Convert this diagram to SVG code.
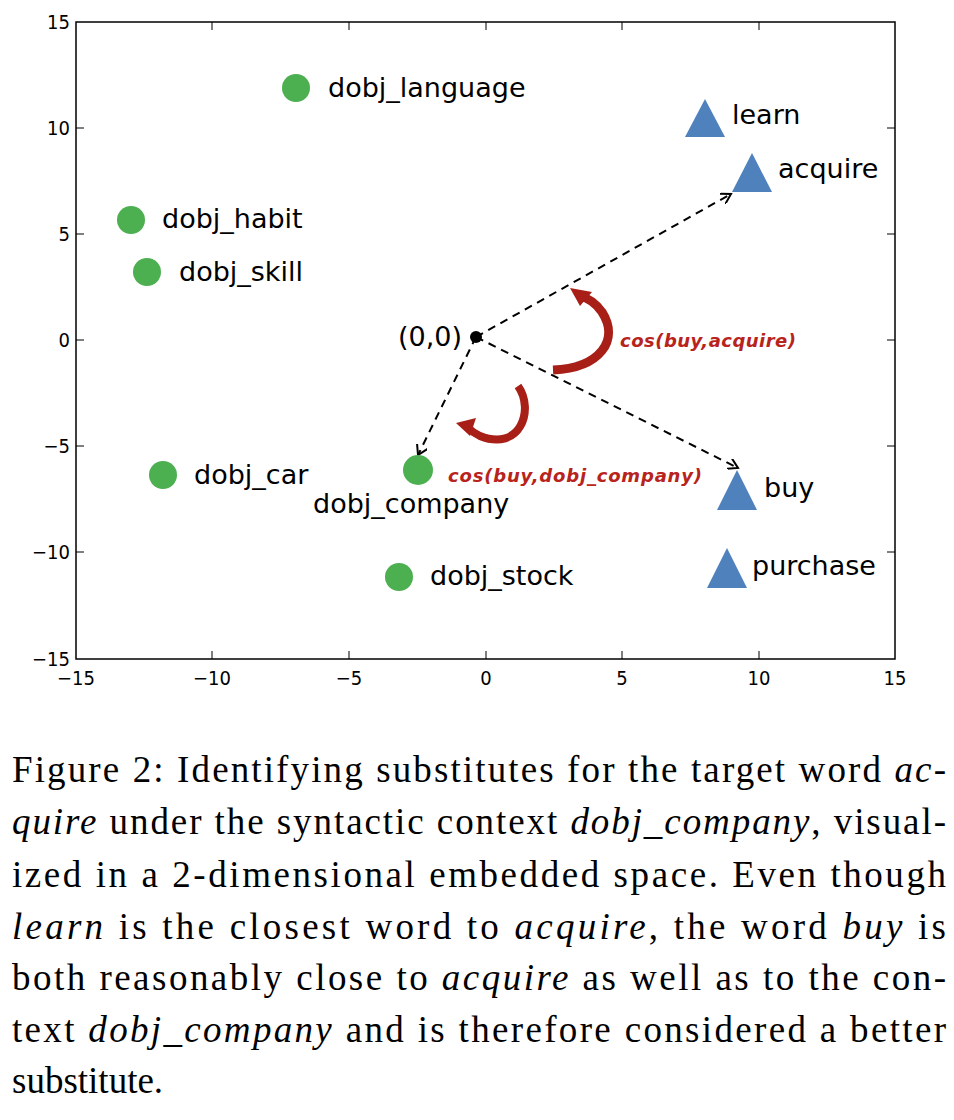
<svg xmlns="http://www.w3.org/2000/svg" width="954" height="1120" viewBox="0 0 954 1120">
<style>
.tk{font-family:"DejaVu Sans Condensed","DejaVu Sans",sans-serif;font-size:20px;fill:#000}
.lb{font-family:"DejaVu Sans",sans-serif;font-size:27px;fill:#000}
.red{font-family:"DejaVu Sans",sans-serif;font-size:18px;font-weight:bold;font-style:italic;fill:#b8231c}
.pt{fill:#4caf50}
.tri{fill:#4f81bd}
.cap{font-family:"Liberation Serif",serif;font-size:37px;fill:#000}
.dash{stroke:#000;stroke-width:2;stroke-dasharray:8,6;fill:none;marker-end:url(#ah)}
.tick{stroke:#000;stroke-width:1}
</style>
<defs>
<marker id="ah" markerWidth="12" markerHeight="12" refX="10" refY="6" orient="auto" markerUnits="userSpaceOnUse">
<path d="M0,0 L10,6 L0,12" fill="none" stroke="#000" stroke-width="2"/>
</marker>
</defs>
<rect width="954" height="1120" fill="#fff"/>
<g id="axes">
<rect x="76" y="22" width="819" height="637" fill="none" stroke="#000" stroke-width="1.5"/>
<g class="tick">
<path d="M212,659v-8M349,659v-8M486,659v-8M622,659v-8M759,659v-8M212,22v8M349,22v8M486,22v8M622,22v8M759,22v8"/>
<path d="M76,128h8M76,234h8M76,340h8M76,446h8M76,552h8M895,128h-8M895,234h-8M895,340h-8M895,446h-8M895,552h-8"/>
</g>
<g class="tk" text-anchor="middle">
<text x="76" y="685">−15</text><text x="212" y="685">−10</text><text x="349" y="685">−5</text><text x="486" y="685">0</text><text x="622" y="685">5</text><text x="759" y="685">10</text><text x="895" y="685">15</text>
</g>
<g class="tk" text-anchor="end">
<text x="70" y="29">15</text><text x="70" y="135">10</text><text x="70" y="241">5</text><text x="70" y="347">0</text><text x="70" y="453">−5</text><text x="70" y="559">−10</text><text x="70" y="666">−15</text>
</g>
</g>
<g id="connectors">
<path class="dash" d="M476,337 L731,194"/>
<path class="dash" d="M476,337 L738,468"/>
<path class="dash" d="M476,337 L418,455"/>
<path d="M553,370 C600,368 620,340 602,312 C595,302 588,298 580,296" fill="none" stroke="#a81f17" stroke-width="9"/>
<path d="M570,288 L592,292 L580,306 Z" fill="#a81f17"/>
<path d="M518,386 C535,410 520,452 480,436 C474,433 470,430 467,427" fill="none" stroke="#a81f17" stroke-width="8"/>
<path d="M456,423 L476,418 L470,436 Z" fill="#a81f17"/>
</g>
<g id="origin"><circle cx="476" cy="337" r="6" fill="#000"/><text x="398" y="346" class="lb" font-size="23">(0,0)</text></g>
<g id="n-language"><circle class="pt" cx="296" cy="88" r="14"/><text class="lb" x="328" y="97">dobj_language</text></g>
<g id="n-habit"><circle class="pt" cx="131" cy="220" r="14"/><text class="lb" x="162" y="228">dobj_habit</text></g>
<g id="n-skill"><circle class="pt" cx="147" cy="272" r="14"/><text class="lb" x="179" y="281">dobj_skill</text></g>
<g id="n-car"><circle class="pt" cx="163" cy="475" r="14"/><text class="lb" x="194" y="484">dobj_car</text></g>
<g id="n-company"><circle class="pt" cx="418" cy="470" r="15"/><text class="lb" x="313" y="513">dobj_company</text></g>
<g id="n-stock"><circle class="pt" cx="399" cy="577" r="14"/><text class="lb" x="430" y="585">dobj_stock</text></g>
<g id="n-learn"><path class="tri" d="M705,99 L725,137 L685,137 Z"/><text class="lb" x="732" y="124">learn</text></g>
<g id="n-acquire"><path class="tri" d="M752,153 L772,192 L732,192 Z"/><text class="lb" x="778" y="178">acquire</text></g>
<g id="n-buy"><path class="tri" d="M737,470 L757,510 L717,510 Z"/><text class="lb" x="764" y="497">buy</text></g>
<g id="n-purchase"><path class="tri" d="M727,548 L747,588 L707,588 Z"/><text class="lb" x="752" y="575">purchase</text></g>
<text class="red" x="620" y="347" textLength="176">cos(buy,acquire)</text>
<text class="red" x="448" y="482" textLength="254">cos(buy,dobj_company)</text>
<g id="caption" class="cap">
<text x="12" y="782" textLength="934" lengthAdjust="spacing">Figure 2: Identifying substitutes for the target word <tspan font-style="italic">ac-</tspan></text>
<text x="12" y="834" textLength="934" lengthAdjust="spacing"><tspan font-style="italic">quire</tspan> under the syntactic context <tspan font-style="italic">dobj_company</tspan>, visual-</text>
<text x="12" y="887" textLength="934" lengthAdjust="spacing">ized in a 2-dimensional embedded space. Even though</text>
<text x="12" y="939" textLength="934" lengthAdjust="spacing"><tspan font-style="italic">learn</tspan> is the closest word to <tspan font-style="italic">acquire</tspan>, the word <tspan font-style="italic">buy</tspan> is</text>
<text x="12" y="990" textLength="934" lengthAdjust="spacing">both reasonably close to <tspan font-style="italic">acquire</tspan> as well as to the con-</text>
<text x="12" y="1042" textLength="934" lengthAdjust="spacing">text <tspan font-style="italic">dobj_company</tspan> and is therefore considered a better</text>
<text x="12" y="1093">substitute.</text>
</g>
</svg>
